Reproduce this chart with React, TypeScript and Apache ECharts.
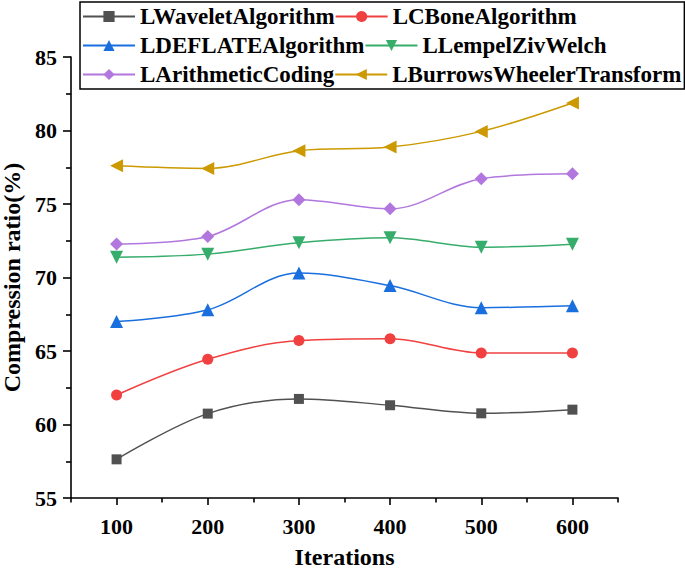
import { useEffect, useRef } from 'react'
import * as echarts from 'echarts'

const iterations = [100, 200, 300, 400, 500, 600]
const waveletValues = [57.63, 60.74, 61.74, 61.31, 60.76, 61.01]
const cboneValues = [62.01, 64.44, 65.71, 65.84, 64.87, 64.87]
const deflateValues = [67.0, 67.8, 70.3, 69.45, 67.95, 68.07]
const lzwValues = [71.38, 71.59, 72.36, 72.7, 72.06, 72.27]
const arithmeticValues = [72.28, 72.79, 75.29, 74.67, 76.72, 77.06]
const bwtValues = [77.6, 77.42, 78.62, 78.87, 79.94, 81.87]

const seriesNames = [
  'LWaveletAlgorithm',
  'LCBoneAlgorithm',
  'LDEFLATEAlgorithm',
  'LLempelZivWelch',
  'LArithmeticCoding',
  'LBurrowsWheelerTransform'
]

const majorTicks = [100, 200, 300, 400, 500, 600]
const minorTicks = [50, 150, 250, 350, 450, 550, 650]

const FONT = "'Liberation Serif', 'Times New Roman', serif"

export default function App() {
  const chartRef = useRef<HTMLDivElement>(null)

  useEffect(() => {
    document.body.style.margin = '0'
    if (!chartRef.current) return
    const chart = echarts.init(chartRef.current, null, { renderer: 'svg' })

    const styles = [
      { color: '#515151', symbol: 'rect', size: 10, rotate: 0 },
      { color: '#F14040', symbol: 'circle', size: 11, rotate: 0 },
      { color: '#1A6FDF', symbol: 'triangle', size: 13, rotate: 0 },
      { color: '#37AD6B', symbol: 'triangle', size: 13, rotate: 180 },
      { color: '#B177DE', symbol: 'diamond', size: 13, rotate: 0 },
      { color: '#CC9900', symbol: 'triangle', size: 13, rotate: 90 }
    ]
    const values = [waveletValues, cboneValues, deflateValues, lzwValues, arithmeticValues, bwtValues]

    // 每条曲线：平滑折线 + 标记
    const series = seriesNames.map((name, i) => ({
      name,
      type: 'line' as const,
      smooth: 0.35,
      data: iterations.map((x, j) => [x, values[i][j]]),
      symbol: styles[i].symbol,
      symbolSize: styles[i].size,
      symbolRotate: styles[i].rotate,
      itemStyle: { color: styles[i].color },
      lineStyle: { color: styles[i].color, width: 1.5 }
    }))

    const option: echarts.EChartsOption = {
      animation: false,
      legend: {
        data: seriesNames,
        left: 80,
        top: 2,
        width: 600,
        orient: 'horizontal',
        itemGap: 0,
        itemWidth: 52,
        itemHeight: 14,
        padding: [0, 3, 0, 2],
        borderColor: '#000',
        borderWidth: 1.5,
        textStyle: {
          fontFamily: FONT,
          fontWeight: 'bold',
          fontSize: 23,
          color: '#000',
          lineHeight: 29
        }
      },
      grid: {
        left: 71,
        right: 67,
        top: 57,
        bottom: 74,
        containLabel: false,
        outerBoundsMode: 'none'
      } as any,
      xAxis: [
        {
          type: 'value',
          min: 50,
          max: 650,
          name: 'Iterations',
          nameLocation: 'middle',
          nameGap: 47,
          nameTextStyle: { fontFamily: FONT, fontWeight: 'bold', fontSize: 24, color: '#000' },
          axisLine: { show: true, lineStyle: { color: '#000', width: 1.6 } },
          axisTick: { show: true, inside: false, length: 7, customValues: majorTicks, lineStyle: { color: '#000', width: 1.6 } },
          axisLabel: { customValues: majorTicks, margin: 17, fontFamily: FONT, fontWeight: 'bold', fontSize: 22, color: '#000' },
          splitLine: { show: false }
        } as any,
        {
          type: 'value',
          min: 50,
          max: 650,
          position: 'bottom',
          axisLine: { show: false },
          axisTick: { show: true, inside: false, length: 4.5, customValues: minorTicks, lineStyle: { color: '#000', width: 1.6 } },
          axisLabel: { show: false },
          splitLine: { show: false }
        } as any
      ],
      yAxis: {
        type: 'value',
        min: 55,
        max: 85,
        interval: 5,
        name: 'Compression ratio(%)',
        nameLocation: 'middle',
        nameGap: 47,
        nameTextStyle: { fontFamily: FONT, fontWeight: 'bold', fontSize: 24, color: '#000' },
        axisLine: { show: true, lineStyle: { color: '#000', width: 1.6 } },
        axisTick: { show: true, inside: false, length: 8, lineStyle: { color: '#000', width: 1.6 } },
        minorTick: { show: true, splitNumber: 2, length: 5, lineStyle: { color: '#000', width: 1.6 } },
        axisLabel: { margin: 14, fontFamily: FONT, fontWeight: 'bold', fontSize: 22, color: '#000' },
        splitLine: { show: false }
      },
      series
    }

    chart.setOption(option)

    return () => {
      chart.dispose()
    }
  }, [])

  return <div ref={chartRef} style={{ width: '685px', height: '572px' }} />
}
